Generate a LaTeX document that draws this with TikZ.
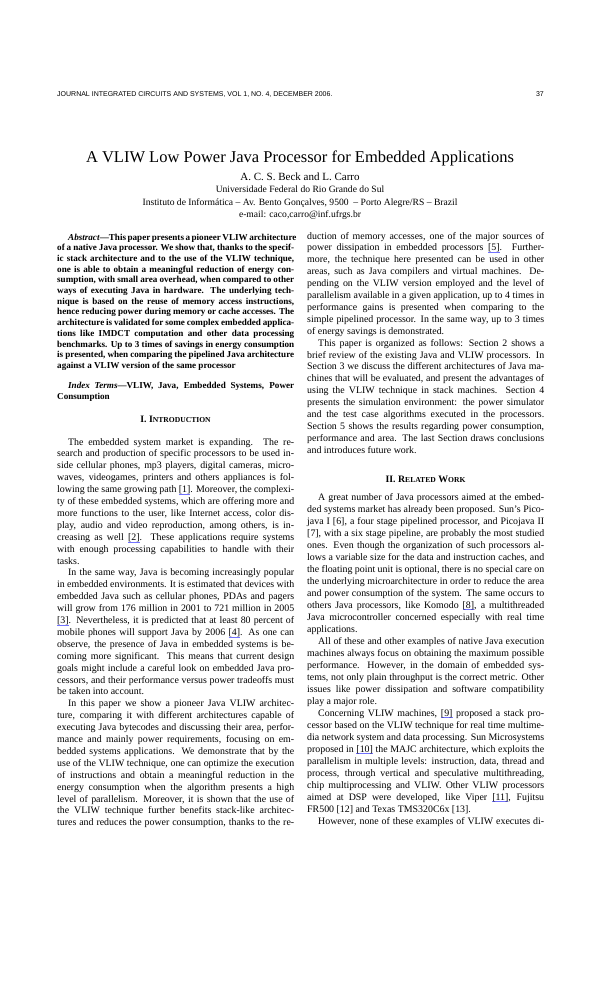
\documentclass[tikz,border=0pt]{standalone}
\usepackage{fontspec}
\setmainfont{Liberation Serif}
\newfontfamily\hdrfont{Liberation Sans}
\newdimen\colw \colw=237pt
\newcommand\Ln[1]{\hbox to\colw{#1}}
\newcommand\Le[1]{\hbox to\colw{#1\hfil}}
\newcommand\Li[1]{\hbox to\colw{\hskip 11pt #1}}
\newcommand\ct[1]{\setbox0\hbox{#1}\leavevmode\rlap{\color{blue!55}\rule[-1.8pt]{\wd0}{0.5pt}}\box0\relax}
\newcommand\smc[1]{{\fontsize{7.6}{8}\selectfont #1}}
\tikzset{txt/.style={anchor=base west,inner sep=0pt},
 ctr/.style={anchor=base,inner sep=0pt}}
\begin{document}
\begin{tikzpicture}[x=1pt,y=-1pt]
\useasboundingbox[fill=white] (0,0) rectangle (600,988);
% header
\node[txt,font=\hdrfont\fontsize{7}{8}\selectfont] (hdr) at (57,96) {JOURNAL INTEGRATED CIRCUITS AND SYSTEMS, VOL 1, NO. 4, DECEMBER 2006.};
\node[anchor=base east,inner sep=0pt,font=\hdrfont\fontsize{7}{8}\selectfont] (pg) at (544,96) {37};
% title block
\node[ctr,font=\fontsize{16.5}{18}\selectfont] (title) at (300,162) {A VLIW Low Power Java Processor for Embedded Applications};
\node[ctr,font=\fontsize{11}{12}\selectfont] (auth) at (300,180) {A. C. S. Beck and L. Carro};
\node[ctr,font=\fontsize{9.6}{11}\selectfont] (univ) at (300,192.5) {Universidade Federal do Rio Grande do Sul};
\node[ctr,font=\fontsize{9.6}{11}\selectfont] (inst) at (300,205) {Instituto de Informática – Av. Bento Gonçalves, 9500 \ – Porto Alegre/RS – Brazil};
\node[ctr,font=\fontsize{9.6}{11}\selectfont] (mail) at (300,217.5) {e-mail: caco,carro@inf.ufrgs.br};
% abstract
\node[txt,font=\bfseries\fontsize{9.1}{10.7}\selectfont] (abs) at (57,240) {\vtop{\baselineskip=10.7pt \lineskiplimit=-20pt
\Li{\textit{Abstract}---This paper presents a pioneer VLIW architecture}
\Ln{of a native Java processor. We show that, thanks to the specif-}
\Ln{ic stack architecture and to the use of the VLIW technique,}
\Ln{one is able to obtain a meaningful reduction of energy con-}
\Ln{sumption, with small area overhead, when compared to other}
\Ln{ways of executing Java in hardware. The underlying tech-}
\Ln{nique is based on the reuse of memory access instructions,}
\Ln{hence reducing power during memory or cache accesses. The}
\Ln{architecture is validated for some complex embedded applica-}
\Ln{tions like IMDCT computation and other data processing}
\Ln{benchmarks. Up to 3 times of savings in energy consumption}
\Ln{is presented, when comparing the pipelined Java architecture}
\Le{against a VLIW version of the same processor}}};
\node[txt,font=\bfseries\fontsize{9.1}{11.5}\selectfont] (idx) at (57,388) {\vtop{\baselineskip=11.2pt \lineskiplimit=-20pt
\Li{\textit{Index Terms}---VLIW, Java, Embedded Systems, Power}
\Le{Consumption}}};
% section I
\node[ctr,font=\bfseries\fontsize{9.8}{11}\selectfont] (s1) at (175.5,422) {I. I\smc{NTRODUCTION}};
\node[txt,font=\fontsize{9.9}{11.9}\selectfont] (left) at (57,445) {\vtop{\baselineskip=11.9pt \lineskiplimit=-20pt
\Li{The embedded system market is expanding. The re-}
\Ln{search and production of specific processors to be used in-}
\Ln{side cellular phones, mp3 players, digital cameras, micro-}
\Ln{waves, videogames, printers and others appliances is fol-}
\Ln{lowing the same growing path \ct{[1]}. Moreover, the complexi-}
\Ln{ty of these embedded systems, which are offering more and}
\Ln{more functions to the user, like Internet access, color dis-}
\Ln{play, audio and video reproduction, among others, is in-}
\Ln{creasing as well \ct{[2]}. These applications require systems}
\Ln{with enough processing capabilities to handle with their}
\Le{tasks.}
\Li{In the same way, Java is becoming increasingly popular}
\Ln{in embedded environments. It is estimated that devices with}
\Ln{embedded Java such as cellular phones, PDAs and pagers}
\Ln{will grow from 176 million in 2001 to 721 million in 2005}
\Ln{\ct{[3]}. Nevertheless, it is predicted that at least 80 percent of}
\Ln{mobile phones will support Java by 2006 \ct{[4]}. As one can}
\Ln{observe, the presence of Java in embedded systems is be-}
\Ln{coming more significant. This means that current design}
\Ln{goals might include a careful look on embedded Java pro-}
\Ln{cessors, and their performance versus power tradeoffs must}
\Le{be taken into account.}
\Li{In this paper we show a pioneer Java VLIW architec-}
\Ln{ture, comparing it with different architectures capable of}
\Ln{executing Java bytecodes and discussing their area, perfor-}
\Ln{mance and mainly power requirements, focusing on em-}
\Ln{bedded systems applications. We demonstrate that by the}
\Ln{use of the VLIW technique, one can optimize the execution}
\Ln{of instructions and obtain a meaningful reduction in the}
\Ln{energy consumption when the algorithm presents a high}
\Ln{level of parallelism. Moreover, it is shown that the use of}
\Ln{the VLIW technique further benefits stack-like architec-}
\Ln{tures and reduces the power consumption, thanks to the re-}}};
% right column
\node[txt,font=\fontsize{9.9}{11.9}\selectfont] (r1) at (307,239) {\vtop{\baselineskip=11.9pt \lineskiplimit=-20pt
\Ln{duction of memory accesses, one of the major sources of}
\Ln{power dissipation in embedded processors \ct{[5]}. Further-}
\Ln{more, the technique here presented can be used in other}
\Ln{areas, such as Java compilers and virtual machines. De-}
\Ln{pending on the VLIW version employed and the level of}
\Ln{parallelism available in a given application, up to 4 times in}
\Ln{performance gains is presented when comparing to the}
\Ln{simple pipelined processor. In the same way, up to 3 times}
\Le{of energy savings is demonstrated.}
\Li{This paper is organized as follows: Section 2 shows a}
\Ln{brief review of the existing Java and VLIW processors. In}
\Ln{Section 3 we discuss the different architectures of Java ma-}
\Ln{chines that will be evaluated, and present the advantages of}
\Ln{using the VLIW technique in stack machines. Section 4}
\Ln{presents the simulation environment: the power simulator}
\Ln{and the test case algorithms executed in the processors.}
\Ln{Section 5 shows the results regarding power consumption,}
\Ln{performance and area. The last Section draws conclusions}
\Le{and introduces future work.}}};
\node[ctr,font=\bfseries\fontsize{9.8}{11}\selectfont] (s2) at (425.5,482) {II. R\smc{ELATED} W\smc{ORK}};
\node[txt,font=\fontsize{9.9}{12}\selectfont] (r2) at (307,500) {\vtop{\baselineskip=12pt \lineskiplimit=-20pt
\Li{A great number of Java processors aimed at the embed-}
\Ln{ded systems market has already been proposed. Sun's Pico-}
\Ln{java I [6], a four stage pipelined processor, and Picojava II}
\Ln{[7], with a six stage pipeline, are probably the most studied}
\Ln{ones. Even though the organization of such processors al-}
\Ln{lows a variable size for the data and instruction caches, and}
\Ln{the floating point unit is optional, there is no special care on}
\Ln{the underlying microarchitecture in order to reduce the area}
\Ln{and power consumption of the system. The same occurs to}
\Ln{others Java processors, like Komodo \ct{[8]}, a multithreaded}
\Ln{Java microcontroller concerned especially with real time}
\Le{applications.}
\Li{All of these and other examples of native Java execution}
\Ln{machines always focus on obtaining the maximum possible}
\Ln{performance. However, in the domain of embedded sys-}
\Ln{tems, not only plain throughput is the correct metric. Other}
\Ln{issues like power dissipation and software compatibility}
\Le{play a major role.}
\Li{Concerning VLIW machines, \ct{[9]} proposed a stack pro-}
\Ln{cessor based on the VLIW technique for real time multime-}
\Ln{dia network system and data processing. Sun Microsystems}
\Ln{proposed in \ct{[10]} the MAJC architecture, which exploits the}
\Ln{parallelism in multiple levels: instruction, data, thread and}
\Ln{process, through vertical and speculative multithreading,}
\Ln{chip multiprocessing and VLIW. Other VLIW processors}
\Ln{aimed at DSP were developed, like Viper \ct{[11]}, Fujitsu}
\Le{FR500 [12] and Texas TMS320C6x [13].}
\Li{However, none of these examples of VLIW executes di-}}};
\end{tikzpicture}
\end{document}
